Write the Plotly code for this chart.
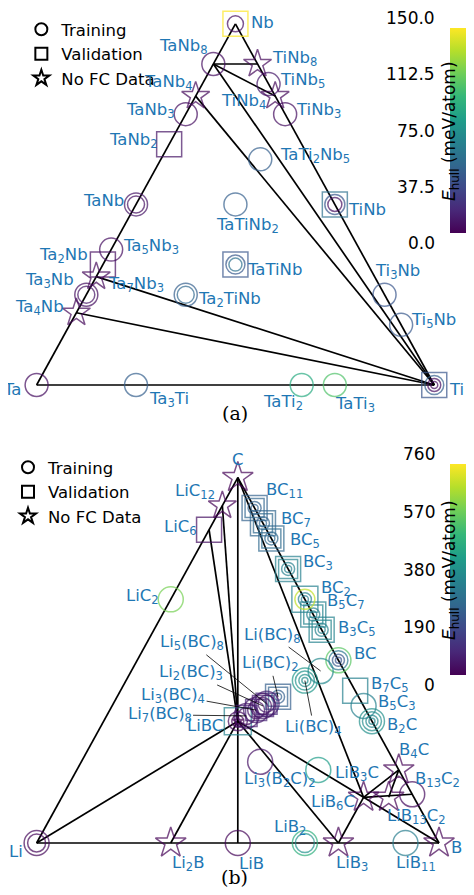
import math
import plotly.graph_objects as go

S3 = math.sqrt(3) / 2
LABEL_COLOR = "#1f77b4"
FONT = "DejaVu Sans"
LFS = 16.5

# ---------------- panel (a): Ta (left), Ti (right), Nb (top) ----------------
a_names = ["Nb", "TaNb8", "TiNb8", "TiNb5", "TiNb4", "TiNb3", "TaNb4", "TaNb3", "TaNb2",
           "TaTi2Nb5", "TaNb", "TaTiNb2", "Ta5Nb3", "Ta2Nb", "Ta7Nb3", "Ta3Nb", "Ta4Nb",
           "TaTiNb", "Ta2TiNb", "TiNb", "Ti3Nb", "Ti5Nb", "Ta", "Ti", "Ta3Ti", "TaTi2", "TaTi3"]
a_labels = ["Nb", "TaNb<sub>8</sub>", "TiNb<sub>8</sub>", "TiNb<sub>5</sub>", "TiNb<sub>4</sub>",
            "TiNb<sub>3</sub>", "TaNb<sub>4</sub>", "TaNb<sub>3</sub>", "TaNb<sub>2</sub>",
            "TaTi<sub>2</sub>Nb<sub>5</sub>", "TaNb", "TaTiNb<sub>2</sub>", "Ta<sub>5</sub>Nb<sub>3</sub>",
            "Ta<sub>2</sub>Nb", "Ta<sub>7</sub>Nb<sub>3</sub>", "Ta<sub>3</sub>Nb", "Ta<sub>4</sub>Nb",
            "TaTiNb", "Ta<sub>2</sub>TiNb", "TiNb", "Ti<sub>3</sub>Nb", "Ti<sub>5</sub>Nb", "Ta", "Ti",
            "Ta<sub>3</sub>Ti", "TaTi<sub>2</sub>", "TaTi<sub>3</sub>"]
a_ta = [0, 1/9, 0, 0, 0, 0, .2, .25, 1/3, 1/8, .5, .25, 5/8, 2/3, .7, .75, .8, 1/3, .5, 0, 0, 0, 1, 0, .75, 1/3, .25]
a_ti = [0, 0, 1/9, 1/6, .2, .25, 0, 0, 0, 2/8, 0, .25, 0, 0, 0, 0, 0, 1/3, .25, .5, .75, 5/6, 0, 1, .25, 2/3, .75]
a_nb = [1, 8/9, 8/9, 5/6, .8, .75, .8, .75, 2/3, 5/8, .5, .5, 3/8, 1/3, .3, .25, .2, 1/3, .25, .5, .25, 1/6, 0, 0, 0, 0, 0]
# label offsets (px, right / down), anchor
a_lab = {"Nb": (14, -1, "left"), "TaNb8": (-3, -17, "right"), "TiNb8": (12, -5, "left"),
         "TiNb5": (9, -4, "left"), "TiNb4": (-7, 5, "right"), "TiNb3": (9, -4, "left"),
         "TaNb4": (-1, -14, "right"), "TaNb3": (-9, -4, "right"), "TaNb2": (-9, -4, "right"),
         "TaTi2Nb5": (18, -4, "left"), "TaNb": (-10, -4, "right"), "TaTiNb2": (12, 21, "center"),
         "Ta5Nb3": (10, -3, "left"), "Ta2Nb": (-13, -9, "right"), "Ta7Nb3": (10, 8, "left"),
         "Ta3Nb": (-10, -14, "right"), "Ta4Nb": (-10, -5, "right"), "TaTiNb": (10, 5, "left"),
         "Ta2TiNb": (10, 5, "left"), "TiNb": (11, 5, "left"), "Ti3Nb": (13, -23, "center"),
         "Ti5Nb": (8, -4, "left"), "Ta": (-14, 4, "right"), "Ti": (13, 4, "left"),
         "Ta3Ti": (11, 14, "left"), "TaTi2": (-19, 17, "center"), "TaTi3": (20, 19, "center")}
# markers: (compound, symbol, E_hull meV/atom, size)
a_marks = [("Nb", "square", 150, 25), ("Nb", "circle", 5, 16),
           ("TaNb8", "circle", 5, 23), ("TiNb8", "star", 3, 21), ("TiNb5", "circle", 10, 23),
           ("TiNb4", "star", 3, 21), ("TiNb3", "circle", 5, 23), ("TaNb4", "star", 3, 21),
           ("TaNb3", "circle", 5, 23), ("TaNb2", "square", 8, 25), ("TaTi2Nb5", "circle", 45, 23),
           ("TaNb", "circle", 8, 23), ("TaNb", "circle", 5, 17), ("TaTiNb2", "circle", 45, 23),
           ("Ta5Nb3", "circle", 5, 23), ("Ta2Nb", "square", 5, 25), ("Ta7Nb3", "star", 3, 21),
           ("Ta3Nb", "circle", 5, 23), ("Ta3Nb", "circle", 8, 17), ("Ta4Nb", "star", 3, 21),
           ("TaTiNb", "square", 40, 25), ("TaTiNb", "circle", 42, 19), ("TaTiNb", "circle", 55, 13),
           ("Ta2TiNb", "circle", 45, 23), ("Ta2TiNb", "circle", 50, 17),
           ("TiNb", "square", 55, 25), ("TiNb", "circle", 40, 20), ("TiNb", "circle", 5, 14),
           ("Ti3Nb", "circle", 40, 23), ("Ti5Nb", "circle", 42, 23), ("Ta", "circle", 5, 23),
           ("Ti", "square", 40, 25), ("Ti", "circle", 45, 19), ("Ti", "circle", 5, 13), ("Ti", "circle", 5, 7),
           ("Ta3Ti", "circle", 45, 23), ("TaTi2", "circle", 92, 23), ("TaTi3", "circle", 108, 23)]
a_hull = [("Ta", "Ti"), ("Ta", "Nb"), ("Ti", "Nb"), ("TaNb8", "TiNb8"), ("TaNb8", "TiNb4"),
          ("TaNb8", "Ti"), ("TaNb4", "Ti"), ("Ta7Nb3", "Ti"), ("Ta4Nb", "Ti")]
a_ticks = ["150.0", "112.5", "75.0", "37.5", "0.0"]
a_cmax = 150

# ---------------- panel (b): Li (left), B (right), C (top) ----------------
b_names = ["C", "LiC12", "LiC6", "LiC2", "BC11", "BC7", "BC5", "BC3", "BC2", "B3C5", "B5C7", "BC",
           "B7C5", "B5C3", "B2C", "B4C", "B13C2", "B", "LiB11", "LiB3", "LiB2", "LiB", "Li2B", "Li",
           "LiBC", "Li3(B2C)2", "LiB3C", "LiB6C", "LiB13C2", "Li7(BC)8", "Li3(BC)4", "Li2(BC)3",
           "Li5(BC)8", "Li(BC)2", "Li(BC)8", "Li(BC)4"]
b_labels = ["C", "LiC<sub>12</sub>", "LiC<sub>6</sub>", "LiC<sub>2</sub>", "BC<sub>11</sub>", "BC<sub>7</sub>",
            "BC<sub>5</sub>", "BC<sub>3</sub>", "BC<sub>2</sub>", "B<sub>3</sub>C<sub>5</sub>",
            "B<sub>5</sub>C<sub>7</sub>", "BC", "B<sub>7</sub>C<sub>5</sub>", "B<sub>5</sub>C<sub>3</sub>",
            "B<sub>2</sub>C", "B<sub>4</sub>C", "B<sub>13</sub>C<sub>2</sub>", "B", "LiB<sub>11</sub>",
            "LiB<sub>3</sub>", "LiB<sub>2</sub>", "LiB", "Li<sub>2</sub>B", "Li", "LiBC",
            "Li<sub>3</sub>(B<sub>2</sub>C)<sub>2</sub>", "LiB<sub>3</sub>C", "LiB<sub>6</sub>C",
            "LiB<sub>13</sub>C<sub>2</sub>", "Li<sub>7</sub>(BC)<sub>8</sub>", "Li<sub>3</sub>(BC)<sub>4</sub>",
            "Li<sub>2</sub>(BC)<sub>3</sub>", "Li<sub>5</sub>(BC)<sub>8</sub>", "Li(BC)<sub>2</sub>",
            "Li(BC)<sub>8</sub>", "Li(BC)<sub>4</sub>"]
b_li = [0, 1/13, 1/7, 1/3, 0, 0, 0, 0, 0, 0, 0, 0, 0, 0, 0, 0, 0, 0, 1/12, .25, 1/3, .5, 2/3, 1,
        1/3, 3/9, .2, 1/8, 1/16, 7/23, 3/11, .25, 5/21, .2, 1/17, 1/9]
b_b = [0, 0, 0, 0, 1/12, 1/8, 1/6, .25, 1/3, 3/8, 5/12, .5, 7/12, 5/8, 2/3, .8, 13/15, 1, 11/12, .75,
       2/3, .5, 1/3, 0, 1/3, 4/9, .6, .75, 13/16, 8/23, 4/11, .375, 8/21, .4, 8/17, 4/9]
b_c = [1, 12/13, 6/7, 2/3, 11/12, 7/8, 5/6, .75, 2/3, 5/8, 7/12, .5, 5/12, 3/8, 1/3, .2, 2/15, 0, 0, 0,
       0, 0, 0, 0, 1/3, 2/9, .2, 1/8, 2/16, 8/23, 4/11, .375, 8/21, .4, 8/17, 4/9]
b_lab = {"C": (0, -18, "center"), "LiC12": (-5, -14, "right"), "LiC6": (-10, -2, "right"),
         "LiC2": (-10, -3, "right"), "BC11": (9, -17, "left"), "BC7": (16, -4, "left"),
         "BC5": (17, 2, "left"), "BC3": (13, -6, "left"), "BC2": (14, -11, "left"),
         "B5C7": (3, -28, "left"), "B3C5": (23, 14, "left"), "BC": (14, -7, "left"),
         "B7C5": (14, -6, "left"), "B5C3": (12, -3, "left"), "B2C": (13, 4, "left"),
         "B4C": (15, -19, "center"), "B13C2": (1, -15, "left"), "B": (10, 4, "left"),
         "LiB11": (11, 20, "center"), "LiB3": (14, 20, "center"), "LiB2": (-15, -16, "center"),
         "LiB": (14, 20, "center"), "Li2B": (17, 20, "center"), "Li": (-12, 8, "right"),
         "LiBC": (-13, 4, "right"), "Li3(B2C)2": (20, 18, "center"), "LiB3C": (15, 4, "left"),
         "LiB6C": (-7, 5, "right"), "LiB13C2": (28, 19, "center")}
# labels with leader lines: text-centre offset (px right, px down)
b_lead = {"Li7(BC)8": (-87, -1), "Li3(BC)4": (-83, -15), "Li2(BC)3": (-72, -33),
          "Li5(BC)8": (-75, -61), "Li(BC)2": (-8, -33), "Li(BC)8": (-48, -36), "Li(BC)4": (9, 47)}
b_marks = [("C", "star", 5, 23), ("LiC12", "star", 5, 21), ("LiC6", "square", 30, 25),
           ("LiC2", "circle", 600, 25)]
for nm, e in [("BC11", 240), ("BC7", 250), ("BC5", 255), ("BC3", 330), ("B3C5", 335), ("B5C7", 340),
              ("Li(BC)2", 230)]:
    b_marks += [(nm, "square", e, 25), (nm, "square", e + 10, 19), (nm, "circle", e, 13), (nm, "circle", e, 7)]
b_marks += [("BC2", "square", 330, 26), ("BC2", "circle", 690, 20), ("BC2", "circle", 330, 13), ("BC2", "circle", 320, 7),
            ("BC", "circle", 560, 25), ("BC", "circle", 300, 19), ("BC", "circle", 210, 12), ("BC", "circle", 200, 6),
            ("B7C5", "square", 330, 25), ("B5C3", "circle", 330, 25),
            ("B2C", "circle", 380, 25), ("B2C", "circle", 370, 19), ("B2C", "circle", 360, 12), ("B2C", "circle", 350, 6),
            ("B4C", "star", 5, 23), ("B13C2", "circle", 20, 25), ("B", "star", 5, 23),
            ("LiB11", "circle", 320, 25), ("LiB3", "star", 5, 23),
            ("LiB2", "circle", 480, 25), ("LiB2", "circle", 390, 19), ("LiB", "circle", 10, 25),
            ("Li2B", "star", 5, 23), ("Li", "circle", 15, 25), ("Li", "circle", 10, 18),
            ("LiBC", "square", 340, 27), ("LiBC", "circle", 20, 19), ("LiBC", "circle", 10, 12), ("LiBC", "star", 5, 8),
            ("Li3(B2C)2", "circle", 40, 25), ("LiB3C", "circle", 420, 25), ("LiB6C", "star", 5, 23),
            ("LiB13C2", "star", 5, 23), ("Li(BC)8", "circle", 360, 25),
            ("Li(BC)4", "circle", 400, 25), ("Li(BC)4", "circle", 390, 19), ("Li(BC)4", "circle", 380, 12), ("Li(BC)4", "circle", 370, 6)]
for nm, e in [("Li7(BC)8", 50), ("Li3(BC)4", 60), ("Li2(BC)3", 45), ("Li5(BC)8", 70)]:
    b_marks += [(nm, "circle", e, 25), (nm, "circle", e - 20, 17), (nm, "square", e + 20, 21)]
b_hull = [("Li", "B"), ("Li", "C"), ("B", "C"), ("C", "LiB"), ("LiC12", "LiBC"), ("LiC6", "LiBC"),
          ("Li", "LiBC"), ("Li2B", "LiBC"), ("LiBC", "LiB3"), ("LiBC", "LiB6C"), ("C", "LiB6C"),
          ("LiB6C", "LiB3"), ("LiB6C", "B4C"), ("LiB6C", "B13C2"), ("LiB6C", "B"), ("B4C", "LiB13C2")]
b_ticks = ["760", "570", "380", "190", "0"]
b_cmax = 760


def xy(l, r, t):
    return r + t / 2, t * S3


fig = go.Figure()
annos = []


def panel(names, labels, fl, fr, ft, lab, lead, marks, hull, xa, ya, cax, legend):
    pos = {n: xy(l, r, t) for n, l, r, t in zip(names, fl, fr, ft)}
    lx, ly = [], []
    for p, q in hull:
        lx += [pos[p][0], pos[q][0], None]
        ly += [pos[p][1], pos[q][1], None]
    fig.add_trace(go.Scatter(x=lx, y=ly, mode="lines", line=dict(color="black", width=1.7),
                             xaxis=xa, yaxis=ya, showlegend=False, hoverinfo="skip"))
    for sym in ["square", "circle", "star"]:
        mm = [m for m in marks if m[1] == sym]
        fig.add_trace(go.Scatter(
            x=[pos[m[0]][0] for m in mm], y=[pos[m[0]][1] for m in mm], mode="markers",
            marker=dict(symbol=sym + "-open", size=[m[3] for m in mm], color=[m[2] for m in mm],
                        coloraxis=cax, line=dict(width=1.5)),
            xaxis=xa, yaxis=ya, showlegend=False))
    for lbl, sym in [("Training", "circle"), ("Validation", "square"), ("No FC Data", "star")]:
        fig.add_trace(go.Scatter(x=[None], y=[None], mode="markers", name=lbl, legend=legend,
                                 marker=dict(symbol=sym + "-open", size=16, color="black", line=dict(width=1.7)),
                                 xaxis=xa, yaxis=ya))
    for n, t in zip(names, labels):
        if n in lab:
            dx, dy, anc = lab[n]
            annos.append(dict(x=pos[n][0], y=pos[n][1], xref=xa, yref=ya, text=t, showarrow=False,
                              xanchor=anc, yanchor="middle", xshift=dx, yshift=-dy,
                              font=dict(color=LABEL_COLOR, size=LFS, family=FONT)))
        elif n in lead:
            ax, ay = lead[n]
            annos.append(dict(x=pos[n][0], y=pos[n][1], xref=xa, yref=ya, text=t, showarrow=True,
                              arrowhead=0, arrowwidth=0.8, arrowcolor="black", ax=ax, ay=ay,
                              font=dict(color=LABEL_COLOR, size=LFS, family=FONT)))


panel(a_names, a_labels, a_ta, a_ti, a_nb, a_lab, {}, a_marks, a_hull, "x", "y", "coloraxis", "legend")
panel(b_names, b_labels, b_li, b_b, b_c, b_lab, b_lead, b_marks, b_hull, "x2", "y2", "coloraxis2", "legend2")

W, H = 474, 895


def py(p):
    return 1 - p / H


def cbar(top, bot):
    return dict(x=453 / W, xanchor="left", thickness=22, lenmode="pixels", len=bot - top,
                y=py((top + bot) / 2), yanchor="middle", showticklabels=False, ticks="",
                outlinewidth=0)


for ticks, top, bot in [(a_ticks, 10, 235), (b_ticks, 446, 677)]:
    for i, t in enumerate(ticks):
        yy = top + (bot - top) * i / (len(ticks) - 1)
        annos.append(dict(x=450 / W, y=py(yy), xref="paper", yref="paper", text=t, showarrow=False,
                          xanchor="right", yanchor="middle", font=dict(size=17, color="black", family=FONT)))
    annos.append(dict(x=464 / W, y=py((top + bot) / 2), xref="paper", yref="paper", xanchor="center",
                      yanchor="middle", text="<i>E</i><sub>hull</sub> (meV/atom)", textangle=-90, showarrow=False,
                      font=dict(size=17, color="black", family=FONT)))

for t, yy in [("(a)", 405), ("(b)", 882)]:
    annos.append(dict(x=238 / W, y=py(yy), xref="paper", yref="paper", text=t, showarrow=False,
                      xanchor="center", font=dict(size=19, color="black", family="DejaVu Serif")))

hid = dict(visible=False, fixedrange=True)
fig.update_layout(
    width=W, height=H, margin=dict(l=0, r=0, t=0, b=0), plot_bgcolor="white", paper_bgcolor="white",
    xaxis=dict(domain=[0, 1], range=[-30 / 417, 444 / 417], **hid),
    yaxis=dict(domain=[1 - 420 / H, 1], range=[-43 / 417, 377 / 417], **hid),
    xaxis2=dict(domain=[0, 1], range=[-30 / 422, 444 / 422], **hid),
    yaxis2=dict(domain=[0, 455 / H], range=[-60 / 422, 395 / 422], **hid),
    coloraxis=dict(colorscale="Viridis", cmin=0, cmax=a_cmax, colorbar=cbar(10, 235)),
    coloraxis2=dict(colorscale="Viridis", cmin=0, cmax=b_cmax, colorbar=cbar(446, 677)),
    legend=dict(x=14 / W, y=py(4), xanchor="left", yanchor="top", bgcolor="rgba(0,0,0,0)",
                font=dict(size=16.5, family=FONT, color="black"), tracegroupgap=0, itemsizing="constant"),
    legend2=dict(x=0, y=py(442), xanchor="left", yanchor="top", bgcolor="rgba(0,0,0,0)",
                 font=dict(size=16.5, family=FONT, color="black"), tracegroupgap=0, itemsizing="constant"),
    annotations=annos, showlegend=True,
)
fig.write_html("out.html")
